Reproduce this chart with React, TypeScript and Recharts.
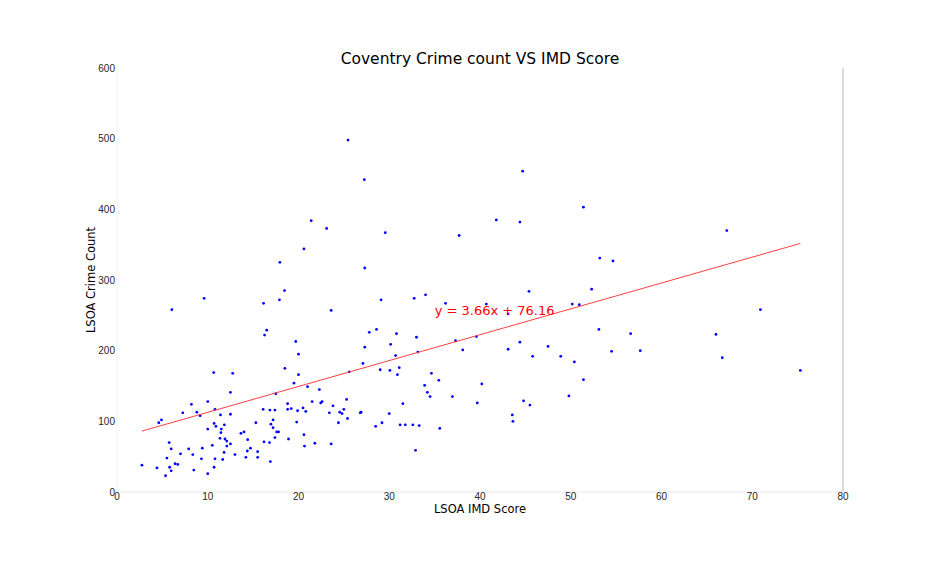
import { ScatterChart, Scatter, XAxis, YAxis, ReferenceLine, ReferenceDot } from "recharts";

// LSOA IMD score (x) and crime count (y)
const imdScore = [
  2.75, 4.4, 4.6, 4.9, 5.35, 5.5, 5.75, 5.8, 5.97, 5.97, 6.04, 6.4, 6.7, 7.0, 7.25, 7.9,
  8.2, 8.35, 8.46, 8.8, 9.16, 9.3, 9.4, 9.6, 10.0, 10.0, 10.0, 10.5, 10.66, 10.7, 10.7, 10.8,
  10.8, 10.9, 11.35, 11.4, 11.45, 11.5, 11.65, 11.8, 11.83, 11.9, 12.1, 12.1, 12.5, 12.5, 12.5, 12.75,
  13.0, 13.66, 14.0, 14.2, 14.36, 14.4, 14.7, 15.3, 15.5, 15.5, 16.1, 16.15, 16.2, 16.26, 16.5, 16.8,
  16.85, 16.9, 16.96, 17.2, 17.2, 17.4, 17.4, 17.5, 17.6, 17.8, 17.9, 17.95, 18.46, 18.5, 18.8, 18.8,
  18.9, 19.2, 19.5, 19.7, 19.8, 19.9, 20.0, 20.0,
  20.5, 20.8, 20.6, 20.66, 21.0, 21.5, 21.8, 22.3, 22.45, 22.6, 23.4, 23.8, 23.6, 24.4, 24.55, 24.8,
  25.0, 25.3, 25.4, 25.6, 27.1, 27.3, 26.8, 26.9, 28.5, 29.0, 29.2, 30.07, 30.15, 30.0, 30.7, 30.9,
  31.1, 31.5, 31.2, 31.76, 32.6, 33.3, 32.9, 33.15, 34.65, 33.9, 34.2, 34.5, 35.46, 35.57, 36.96, 37.3,
  38.1, 39.7,
  25.46, 27.25, 21.4, 23.1, 29.56, 37.7, 20.6, 27.3, 29.1, 32.75, 34.0, 36.2, 23.6, 27.8, 28.6, 30.8,
  33.0, 39.6,
  44.7, 51.4, 41.8, 44.4, 53.2, 54.65, 45.4, 52.3, 40.7, 43.1, 50.17, 50.94, 44.4, 53.1, 56.6,
  43.1, 47.5, 45.8, 48.9, 54.5, 57.66, 50.4, 51.4, 40.2, 49.8, 44.8, 45.5, 43.56, 43.63,
  67.2, 70.9, 66.0, 66.7, 75.3,
];
const crimeCount = [
  38, 34, 98, 102, 23, 48, 70, 35, 61, 30, 258, 40, 39, 54, 112, 61,
  124, 53, 31, 113, 108, 47, 62, 274, 128, 89, 26, 66, 169, 97, 35, 47,
  117, 93, 76, 109, 84, 89, 46, 56, 95, 75, 72, 65, 141, 110, 68, 168,
  53, 83, 85, 49, 58, 74, 62, 98, 57, 49, 117, 267, 71, 222, 229, 70,
  116, 43, 96, 102, 91, 116, 77, 139, 85, 85, 272, 325, 285, 175, 125, 117,
  75, 118, 154, 213, 99, 115, 166, 195,
  119, 114, 81, 65, 149, 128, 69, 145, 126, 128, 112, 122, 68, 98, 113, 111,
  117, 131, 104, 170, 182, 205, 112, 113, 93, 173, 98, 172, 209, 111, 193, 166,
  176, 125, 95, 95, 95, 94, 59, 198, 168, 151, 141, 135, 158, 90, 135, 214,
  201, 126,
  498, 442, 384, 373, 367, 363, 344, 317, 272, 274, 279, 267, 257, 226, 230, 224,
  219, 220,
  454, 403, 385, 382, 331, 327, 284, 287, 266, 252, 266, 265, 212, 230, 224,
  202, 206, 192, 192, 199, 200, 184, 159, 153, 136, 129, 123, 109, 100,
  370, 258, 223, 190, 172,
];

const xTicks = [0, 10, 20, 30, 40, 50, 60, 70, 80];
const yTicks = [0, 100, 200, 300, 400, 500, 600];

// fitted line as printed on the chart
const fitSlope = 3.66;
const fitIntercept = 76.16;
const fitLabel = "y = 3.66x + 76.16";
const fitLabelX = 35;
const fitLabelY = 250;

const points = imdScore.map((x, i) => ({ x, y: crimeCount[i] }));
const fitLine = [Math.min(...imdScore), Math.max(...imdScore)].map((x) => ({
  x,
  y: fitSlope * x + fitIntercept,
}));

const tickStyle = { fill: "#262626", fontSize: 10, fontFamily: "Liberation Sans, Arial, sans-serif" };
const labelFont = "DejaVu Sans, sans-serif";

function Dot(props: { cx?: number; cy?: number }) {
  if (props.cx == null || props.cy == null) return null;
  return <circle cx={props.cx} cy={props.cy} r={1.4} fill="#0000ff" />;
}

function FitText(props: { viewBox?: { x: number; y: number } }) {
  if (!props.viewBox) return null;
  return (
    <text x={props.viewBox.x} y={props.viewBox.y} fill="#ff0000" fontSize={13} fontFamily={labelFont}>
      {fitLabel}
    </text>
  );
}

export default function App() {
  return (
    <div style={{ position: "absolute", left: 0, top: 0, width: 937, height: 562, background: "#fff" }}>
      <ScatterChart width={937} height={562} margin={{ top: 68, right: 94, bottom: 40, left: 0 }}>
        <XAxis
          dataKey="x"
          type="number"
          domain={[0, 80]}
          ticks={xTicks}
          height={30}
          tickLine={false}
          tickSize={0}
          tickMargin={1}
          axisLine={{ stroke: "#e8e8e8" }}
          tick={tickStyle}
        />
        <YAxis
          dataKey="y"
          type="number"
          domain={[0, 600]}
          ticks={yTicks}
          width={117}
          tickLine={false}
          tickSize={0}
          tickMargin={2}
          axisLine={{ stroke: "#f3f3f3" }}
          tick={tickStyle}
        />
        <ReferenceLine x={80} stroke="#b5b5b5" strokeWidth={1} />
        <Scatter data={points} shape={<Dot />} isAnimationActive={false} />
        <Scatter
          data={fitLine}
          line={{ stroke: "#ff4040", strokeWidth: 1 }}
          shape={() => <g />}
          isAnimationActive={false}
        />
        <ReferenceDot
          x={fitLabelX}
          y={fitLabelY}
          r={0}
          fill="none"
          stroke="none"
          label={{ content: (p: any) => <FitText viewBox={p.viewBox} /> }}
        />
      </ScatterChart>
      <svg width={937} height={562} style={{ position: "absolute", left: 0, top: 0, pointerEvents: "none" }}>
        <text x={480} y={64} textAnchor="middle" fontSize={15.5} fontFamily={labelFont} fill="#000">
          Coventry Crime count VS IMD Score
        </text>
        <text x={480} y={513} textAnchor="middle" fontSize={11.5} fontFamily={labelFont} fill="#000">
          LSOA IMD Score
        </text>
        <text
          x={0}
          y={0}
          transform="translate(95 280) rotate(-90)"
          textAnchor="middle"
          fontSize={11.5}
          fontFamily={labelFont}
          fill="#000"
        >
          LSOA Crime Count
        </text>
      </svg>
    </div>
  );
}
